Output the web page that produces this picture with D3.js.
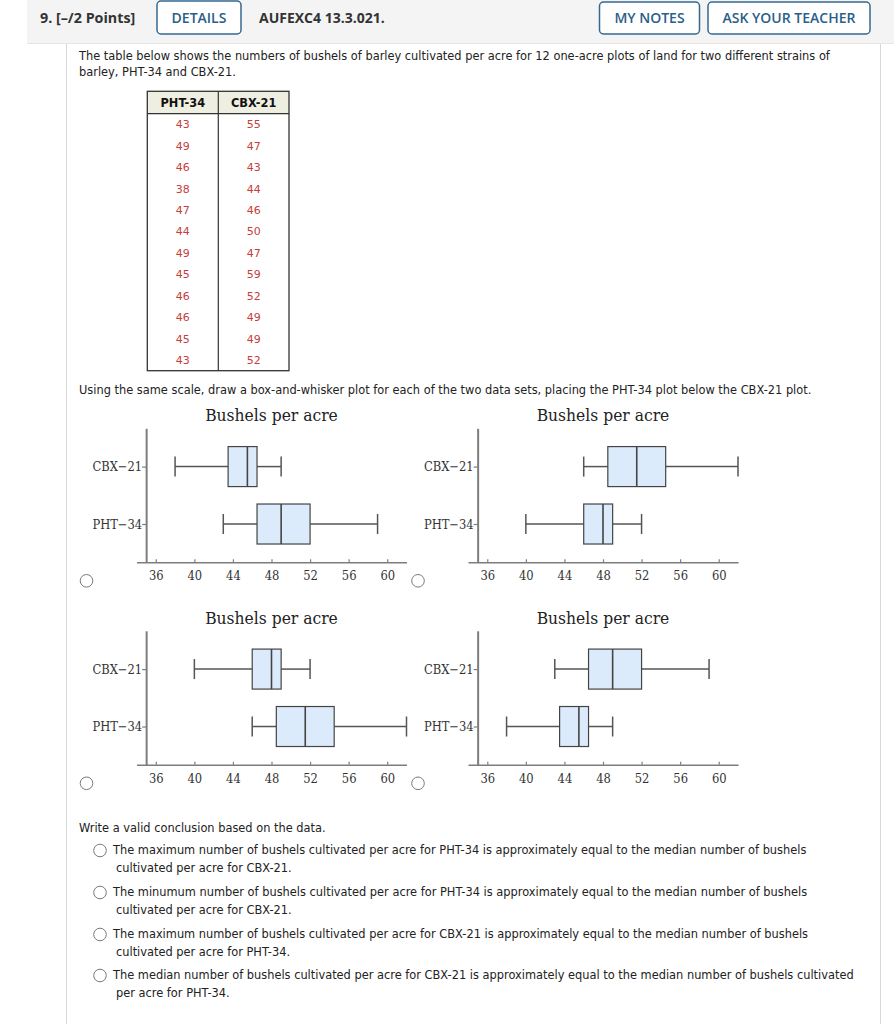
<!DOCTYPE html>
<html><head><meta charset="utf-8">
<script src="https://cdn.jsdelivr.net/npm/d3@7"></script>
<style>body{margin:0;background:#fff} svg{display:block}</style>
</head><body><div id="chart"></div>
<script>
// ---------- data ----------
const strains = ["PHT-34", "CBX-21"];
const pht34 = [43, 49, 46, 38, 47, 44, 49, 45, 46, 46, 45, 43];
const cbx21 = [55, 47, 43, 44, 46, 50, 47, 59, 52, 49, 49, 52];
const plotCategories = ["CBX\u221221", "PHT\u221234"];
const xTicks = [36, 40, 44, 48, 52, 56, 60];
// five-number summaries [min, q1, median, q3, max]
const choiceA_cbx = [38, 43.5, 45.5, 46.5, 49];
const choiceA_pht = [43, 46.5, 49, 52, 59];
const choiceB_cbx = [46, 48.5, 51.5, 54.5, 62];
const choiceB_pht = [40, 46, 48, 49, 52];
const choiceC_cbx = [40, 46, 48, 49, 52];
const choiceC_pht = [46, 48.5, 51.5, 54.5, 62];
const choiceD_cbx = [43, 46.5, 49, 52, 59];
const choiceD_pht = [38, 43.5, 45.5, 46.5, 49];
const introLines = [
  "The table below shows the numbers of bushels of barley cultivated per acre for 12 one-acre plots of land for two different strains of",
  "barley, PHT-34 and CBX-21."
];
const instruction = "Using the same scale, draw a box-and-whisker plot for each of the two data sets, placing the PHT-34 plot below the CBX-21 plot.";
const conclusionPrompt = "Write a valid conclusion based on the data.";
const answerOptions = [
  ["The maximum number of bushels cultivated per acre for PHT-34 is approximately equal to the median number of bushels", "cultivated per acre for CBX-21."],
  ["The minumum number of bushels cultivated per acre for PHT-34 is approximately equal to the median number of bushels", "cultivated per acre for CBX-21."],
  ["The maximum number of bushels cultivated per acre for CBX-21 is approximately equal to the median number of bushels", "cultivated per acre for PHT-34."],
  ["The median number of bushels cultivated per acre for CBX-21 is approximately equal to the median number of bushels cultivated", "per acre for PHT-34."]
];

// ---------- page ----------
const W = 894, H = 1024;
const svg = d3.select("#chart").append("svg").attr("width", W).attr("height", H);
const sansUI = "'Open Sans', 'Noto Sans', sans-serif";
const bodyFont = "'DejaVu Sans', sans-serif";
const serif = "'DejaVu Serif Condensed', 'DejaVu Serif', serif";

// header bar
svg.append("rect").attr("x", 27).attr("y", 0).attr("width", W - 27).attr("height", 43).attr("fill", "#f4f4f4");
svg.append("line").attr("x1", 27).attr("x2", W).attr("y1", 43.5).attr("y2", 43.5).attr("stroke", "#e6e6e6");
// panel borders
svg.append("line").attr("x1", 66.5).attr("x2", 66.5).attr("y1", 44).attr("y2", H).attr("stroke", "#d8d8d8");
svg.append("line").attr("x1", 880.5).attr("x2", 880.5).attr("y1", 44).attr("y2", H).attr("stroke", "#d8d8d8");

svg.append("text").attr("x", 40).attr("y", 23).attr("font-family", sansUI).attr("font-weight", 700)
  .attr("font-size", 14.3).attr("fill", "#333").text("9.  [\u2013/2 Points]");
svg.append("text").attr("x", 259).attr("y", 23).attr("font-family", sansUI).attr("font-weight", 700)
  .attr("font-size", 14).attr("fill", "#333").text("AUFEXC4 13.3.021.");
const buttons = [
  {label: "DETAILS", x: 157, y: 1, w: 84, h: 33},
  {label: "MY NOTES", x: 599.5, y: 2, w: 100, h: 32},
  {label: "ASK YOUR TEACHER", x: 708, y: 2, w: 162, h: 32}
];
const bg = svg.selectAll("g.btn").data(buttons).enter().append("g").attr("class", "btn");
bg.append("rect").attr("x", d => d.x).attr("y", d => d.y).attr("width", d => d.w).attr("height", d => d.h)
  .attr("rx", 4).attr("fill", "#fff").attr("stroke", "#346891").attr("stroke-width", 1.5);
bg.append("text").attr("x", d => d.x + d.w / 2).attr("y", d => d.y + d.h / 2 + 5.2).attr("text-anchor", "middle")
  .attr("font-family", sansUI).attr("font-weight", 600).attr("font-size", 14).attr("fill", "#2b5e88").text(d => d.label);

// body text sized to the reference line length
const probe = svg.append("text").attr("x", 79).attr("y", 60).attr("font-family", bodyFont).attr("font-size", 12)
  .attr("fill", "#222").text(introLines[0]);
const bodySize = 12 * 752 / probe.node().getComputedTextLength();
probe.attr("font-size", bodySize);
function bodyText(x, y, t) {
  return svg.append("text").attr("x", x).attr("y", y).attr("font-family", bodyFont)
    .attr("font-size", bodySize).attr("fill", "#222").text(t);
}
bodyText(79, 76, introLines[1]);
bodyText(79, 394, instruction);
bodyText(79, 832, conclusionPrompt);

// ---------- table ----------
const tX0 = 147.3, tX1 = 289, tDiv = 218.3, tY0 = 91.3, tHead = 113.7, tY1 = 370.7;
const rowH = (tY1 - tHead) / pht34.length;
const colX = [(tX0 + tDiv) / 2, (tDiv + tX1) / 2];
const table = svg.append("g");
table.append("rect").attr("x", tX0).attr("y", tY0).attr("width", tX1 - tX0).attr("height", tHead - tY0).attr("fill", "#efefe1");
table.selectAll("text.head").data(strains).enter().append("text").attr("class", "head")
  .attr("x", (d, i) => colX[i]).attr("y", tY0 + 16).attr("text-anchor", "middle")
  .attr("font-family", "'DejaVu Sans', sans-serif").attr("font-weight", 700).attr("font-size", 11.4).attr("fill", "#111").text(d => d);
const rows = d3.range(pht34.length).map(i => [pht34[i], cbx21[i]]);
const rg = table.selectAll("g.row").data(rows).enter().append("g").attr("class", "row")
  .attr("transform", (d, i) => `translate(0,${tHead + (i + 0.5) * rowH + 4})`);
rg.selectAll("text").data(d => d).enter().append("text").attr("x", (d, i) => colX[i]).attr("text-anchor", "middle")
  .attr("font-family", "'DejaVu Sans', sans-serif").attr("font-size", 11).attr("fill", "#c4403c").text(d => d);
table.append("rect").attr("x", tX0).attr("y", tY0).attr("width", tX1 - tX0).attr("height", tY1 - tY0)
  .attr("fill", "none").attr("stroke", "#333").attr("stroke-width", 1.3);
table.append("line").attr("x1", tX0).attr("x2", tX1).attr("y1", tHead).attr("y2", tHead).attr("stroke", "#333").attr("stroke-width", 1.2);
table.append("line").attr("x1", tDiv).attr("x2", tDiv).attr("y1", tY0).attr("y2", tY1).attr("stroke", "#333").attr("stroke-width", 1.2);

// ---------- box plots ----------
function radio(cx, cy) {
  svg.append("circle").attr("cx", cx).attr("cy", cy).attr("r", 6.3).attr("fill", "#fff")
    .attr("stroke", "#7a7a7a").attr("stroke-width", 1);
}
function drawPlot(ox, top, cbxStats, phtStats) {
  const x = d3.scaleLinear().domain([34, 62]).range([ox, ox + 270]);
  const axisY = top + 134;
  const y = d3.scalePoint().domain(plotCategories).range([top, axisY]).padding(2 / 3);
  const g = svg.append("g");
  g.append("text").attr("x", ox + 135).attr("y", top - 7).attr("text-anchor", "middle")
    .attr("font-family", serif).attr("font-size", 17.3).attr("fill", "#222").text("Bushels per acre");
  const xa = g.append("g").attr("transform", `translate(0,${axisY})`)
    .call(d3.axisBottom(x).tickValues(xTicks).tickSize(-3).tickSizeOuter(0).tickPadding(9));
  const ya = g.append("g").attr("transform", `translate(${x(35)},0)`)
    .call(d3.axisLeft(y).tickSize(4).tickSizeOuter(0).tickPadding(0));
  [xa, ya].forEach(a => {
    a.select(".domain").attr("stroke", "#7d7d7d").attr("stroke-width", 1.6);
    a.selectAll(".tick line").attr("stroke", "#7d7d7d").attr("stroke-width", 1.2);
    a.selectAll(".tick text").attr("font-family", serif).attr("font-size", 12.8).attr("fill", "#333");
  });
  ya.select(".domain").attr("stroke-width", 2);
  const data = [{cat: plotCategories[0], s: cbxStats}, {cat: plotCategories[1], s: phtStats}];
  const bx = g.selectAll("g.box").data(data).enter().append("g").attr("class", "box");
  const half = 20, cap = 10;
  bx.append("line").attr("x1", d => x(d.s[0])).attr("x2", d => x(d.s[1])).attr("y1", d => y(d.cat)).attr("y2", d => y(d.cat))
    .attr("stroke", "#555").attr("stroke-width", 1.5);
  bx.append("line").attr("x1", d => x(d.s[3])).attr("x2", d => x(d.s[4])).attr("y1", d => y(d.cat)).attr("y2", d => y(d.cat))
    .attr("stroke", "#555").attr("stroke-width", 1.5);
  [0, 4].forEach(k => {
    bx.append("line").attr("x1", d => x(d.s[k])).attr("x2", d => x(d.s[k]))
      .attr("y1", d => y(d.cat) - cap).attr("y2", d => y(d.cat) + cap).attr("stroke", "#555").attr("stroke-width", 1.5);
  });
  bx.append("rect").attr("x", d => x(d.s[1])).attr("width", d => x(d.s[3]) - x(d.s[1]))
    .attr("y", d => y(d.cat) - half).attr("height", 2 * half)
    .attr("fill", "#dcebfb").attr("stroke", "#444").attr("stroke-width", 1.2);
  bx.append("line").attr("x1", d => x(d.s[2])).attr("x2", d => x(d.s[2]))
    .attr("y1", d => y(d.cat) - half).attr("y2", d => y(d.cat) + half).attr("stroke", "#444").attr("stroke-width", 1.6);
  radio(ox - 50, axisY + 18.5);
}
drawPlot(136.5, 428.3, choiceA_cbx, choiceA_pht);
drawPlot(468, 428.3, choiceB_cbx, choiceB_pht);
drawPlot(136.5, 630.8, choiceC_cbx, choiceC_pht);
drawPlot(468, 630.8, choiceD_cbx, choiceD_pht);

// ---------- answer options ----------
const optY = [854, 896, 938, 979];
answerOptions.forEach((lines, i) => {
  radio(100, optY[i] - 3.5);
  bodyText(113, optY[i], lines[0]);
  bodyText(116, optY[i] + 18, lines[1]);
});
</script>
</body></html>
